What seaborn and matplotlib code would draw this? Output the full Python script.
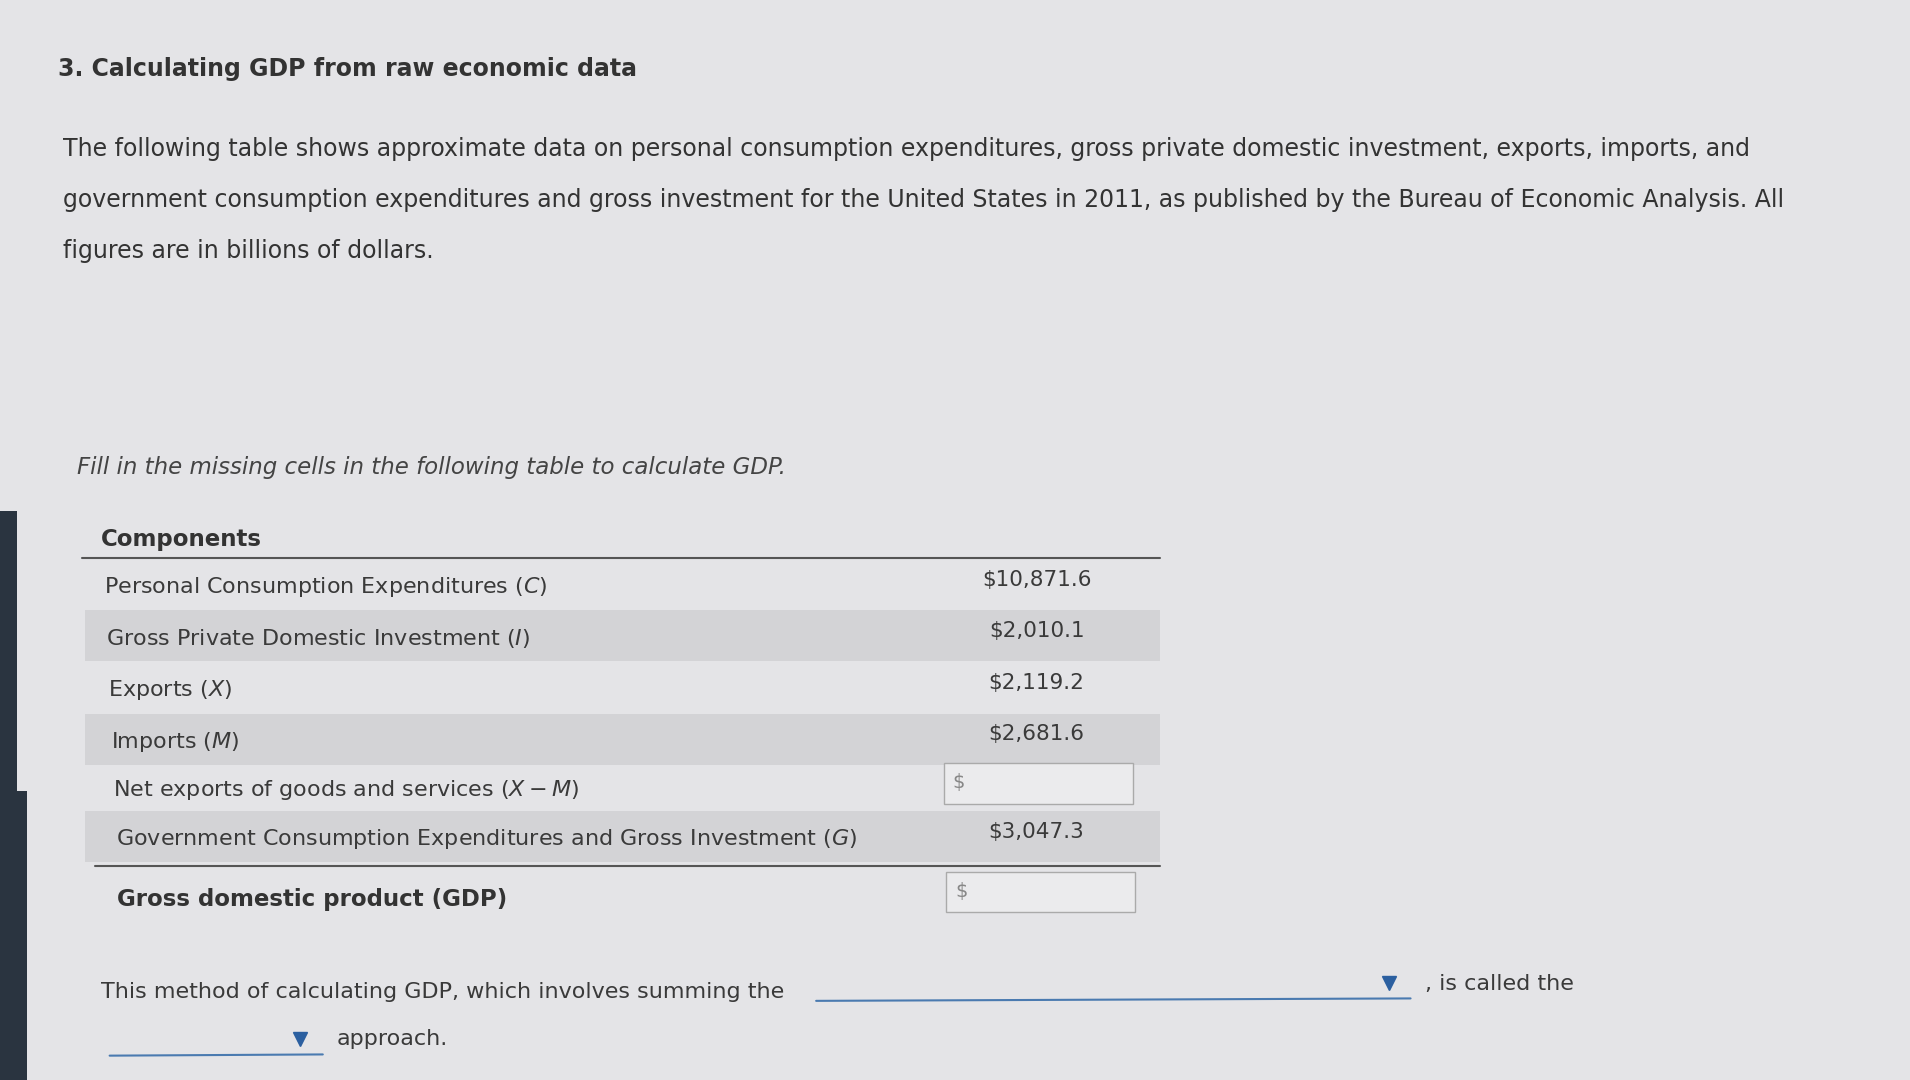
import matplotlib
matplotlib.use("Agg")
import matplotlib.pyplot as plt
import seaborn as sns

sns.set_theme(style="white")
plt.rcParams['font.family'] = ['DejaVu Sans']

components = ["Personal Consumption Expenditures ($C$)",
              "Gross Private Domestic Investment ($I$)",
              "Exports ($X$)",
              "Imports ($M$)",
              "Net exports of goods and services ($X - M$)",
              "Government Consumption Expenditures and Gross Investment ($G$)"]
values = ["$10,871.6", "$2,010.1", "$2,119.2", "$2,681.6", None, "$3,047.3"]
row_y = [480, 522, 565, 607, 647, 687]

fig = plt.figure(figsize=(19.1, 10.8), dpi=100)
fig.patch.set_facecolor("#e4e4e7")
ax = fig.add_axes([0, 0, 1, 1])
ax.set_xlim(0, 1568)
ax.set_ylim(887, 0)
ax.axis("off")
ax.set_facecolor("#e4e4e7")

ax.fill_between([0, 14], 420, 887, color="#2a3440", lw=0)
ax.fill_between([0, 22], 650, 887, color="#2a3440", lw=0)
ax.text(48, 57, "3. Calculating GDP from raw economic data", fontsize=17, fontweight="bold",
        color="#333333", va="center")
para = ["The following table shows approximate data on personal consumption expenditures, gross private domestic investment, exports, imports, and",
        "government consumption expenditures and gross investment for the United States in 2011, as published by the Bureau of Economic Analysis. All",
        "figures are in billions of dollars."]
for i, line in enumerate(para):
    ax.text(52, 122 + i * 42, line, fontsize=17, color="#333333", va="center")
ax.text(63, 384, "Fill in the missing cells in the following table to calculate GDP.",
        fontsize=16.5, style="italic", color="#444444", va="center")

ax.text(83, 443, "Components", fontsize=16.5, fontweight="bold", color="#333333", va="center")
ax.plot([67, 952], [458, 458], color="#555555", lw=1.5)
for i, (name, val, y) in enumerate(zip(components, values, row_y)):
    if i % 2 == 1:
        ax.fill_between([70, 952], y - 21, y + 21, color="#d3d3d6", lw=0)
    ax.text(85 + i * 2, y + 2, name, fontsize=16, color="#3a3a3a", va="center")
    if val is None:
        ax.add_patch(plt.Rectangle((775, y - 20), 155, 33, fc="#ebebed", ec="#aaaaaa", lw=1))
        ax.text(782, y - 4, "$", fontsize=14, color="#888888", va="center")
    else:
        ax.text(851, y - 4, val, fontsize=15.5, color="#3a3a3a", va="center", ha="center")
ax.plot([78, 952], [711, 711], color="#555555", lw=1.5)
ax.text(96, 739, "Gross domestic product (GDP)", fontsize=16.5, fontweight="bold", color="#333333", va="center")
ax.add_patch(plt.Rectangle((777, 716), 155, 33, fc="#ebebed", ec="#aaaaaa", lw=1))
ax.text(784, 732, "$", fontsize=14, color="#888888", va="center")

ax.text(83, 815, "This method of calculating GDP, which involves summing the", fontsize=16,
        color="#3a3a3a", va="center")
ax.plot([670, 1158], [822, 820], color="#4a7ab0", lw=1.5)
ax.plot([1140], [807], marker="v", color="#2b5fa0", ms=10)
ax.text(1170, 808, ", is called the", fontsize=16, color="#3a3a3a", va="center")
ax.plot([90, 265], [867, 866], color="#4a7ab0", lw=1.5)
ax.plot([246], [853], marker="v", color="#2b5fa0", ms=10)
ax.text(276, 853, "approach.", fontsize=16, color="#3a3a3a", va="center")

fig.savefig("out.png", dpi=100, facecolor=fig.get_facecolor())
